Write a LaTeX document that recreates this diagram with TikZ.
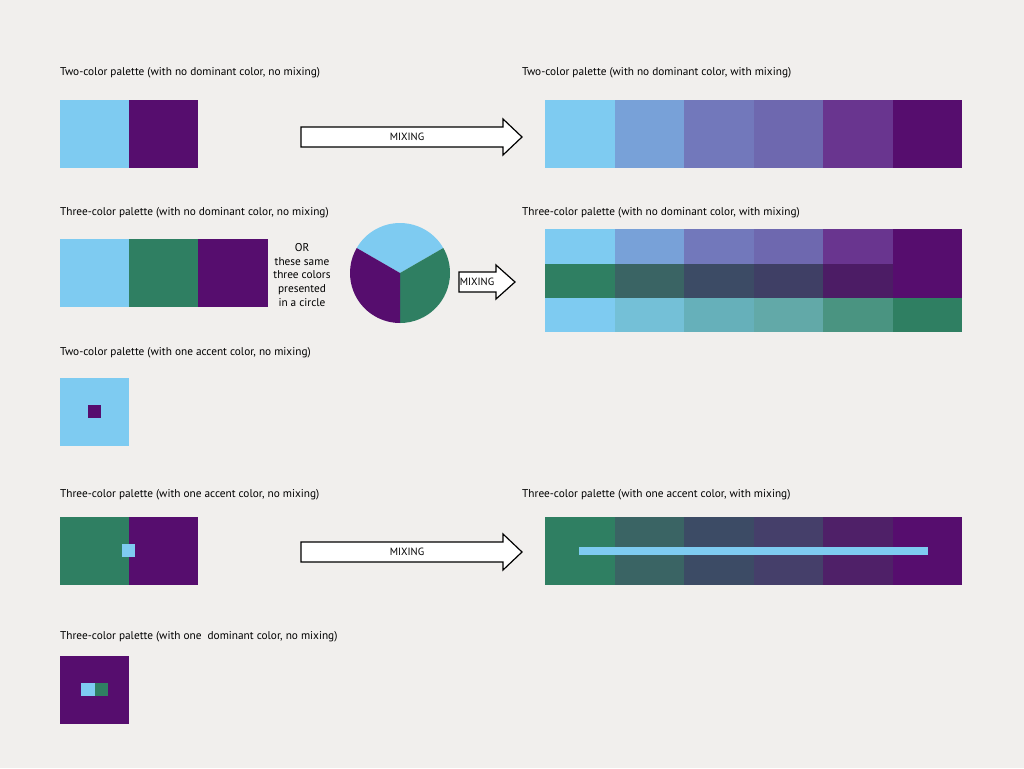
\documentclass[tikz,border=0pt]{standalone}
\usepackage{fontspec}
\setmainfont{PT Sans}
\begin{document}
\begin{tikzpicture}[x=1pt,y=-1pt,
 lbl/.style={anchor=west,inner sep=0pt,font=\fontsize{11.3}{12}\selectfont},
 arr/.style={draw=black,fill=white,line width=1.2pt},
 atext/.style={inner sep=0pt,font=\fontsize{10.5}{12}\selectfont}]
\definecolor{bg}{HTML}{F1EFED}
\definecolor{cb}{HTML}{7ECBF1}\definecolor{cp}{HTML}{560D6E}\definecolor{cg}{HTML}{2F7F62}
\fill[bg] (0,0) rectangle (1024,768);
\useasboundingbox (0,0) rectangle (1024,768);
% labels
\node[lbl] (l1) at (60,73) {Two-color palette (with no dominant color, no mixing)};
\node[lbl] (r1) at (522,73) {Two-color palette (with no dominant color, with mixing)};
\node[lbl] (l2) at (60,213) {Three-color palette (with no dominant color, no mixing)};
\node[lbl] (r2) at (522,213) {Three-color palette (with no dominant color, with mixing)};
\node[lbl] (l3) at (60,353) {Two-color palette (with one accent color, no mixing)};
\node[lbl] (l4) at (60,495) {Three-color palette (with one accent color, no mixing)};
\node[lbl] (r4) at (522,495) {Three-color palette (with one accent color, with mixing)};
\node[lbl] (l5) at (60,637) {Three-color palette (with one \ dominant color, no mixing)};
% left palettes
\fill[cb] (60,100) rectangle (129,168); \fill[cp] (129,100) rectangle (198,168);
\fill[cb] (60,239) rectangle (129,307); \fill[cg] (129,239) rectangle (198,307); \fill[cp] (198,239) rectangle (268,307);
\fill[cb] (60,378) rectangle (129,446); \fill[cp] (88,405) rectangle (101,418);
\fill[cg] (60,517) rectangle (129,585); \fill[cp] (129,517) rectangle (198,585); \fill[cb] (122,544) rectangle (135,557);
\fill[cp] (60,656) rectangle (129,724); \fill[cb] (81,683) rectangle (95,696); \fill[cg] (95,683) rectangle (108,696);
% OR text
\node[atext,align=center,font=\fontsize{11.3}{13.6}\selectfont] (or) at (302,275) {OR\\these same\\three colors\\presented\\in a circle};
% circle
\coordinate (cc) at (400,273);
\begin{scope}[shift={(cc)},y=1pt]
\fill[cb] (0,0) -- (30:50) arc[start angle=30,end angle=150,radius=50] -- cycle;
\fill[cg] (0,0) -- (-90:50) arc[start angle=-90,end angle=30,radius=50] -- cycle;
\fill[cp] (0,0) -- (150:50) arc[start angle=150,end angle=270,radius=50] -- cycle;
\end{scope}
% arrows
\draw[arr] (301,127) -- (503,127) -- (503,119) -- (522,137) -- (503,155) -- (503,147) -- (301,147) -- cycle;
\node[atext] (m1) at (407,137) {MIXING};
\draw[arr] (301,542) -- (503,542) -- (503,534) -- (522,552) -- (503,570) -- (503,562) -- (301,562) -- cycle;
\node[atext] (m3) at (407,552) {MIXING};
\draw[arr] (459,272) -- (496,272) -- (496,265) -- (515,282) -- (496,299) -- (496,292) -- (459,292) -- cycle;
\node[atext] (m2) at (477,282) {MIXING};
% mixing grids
\def\cw{69.5}
\foreach \c [count=\i from 0] in {7ECBF1,78A1D8,7278BB,6E68AF,69358F,560D6E}{
  \definecolor{tmp}{HTML}{\c}\fill[tmp] (545+\i*\cw,100) rectangle (545+\i*\cw+\cw,168);}
\foreach \c [count=\i from 0] in {7ECBF1,78A1D8,7278BB,6E68AF,69358F,560D6E}{
  \definecolor{tmp}{HTML}{\c}\fill[tmp] (545+\i*\cw,229) rectangle (545+\i*\cw+\cw,264);}
\foreach \c [count=\i from 0] in {2F7F62,3A6464,3C4B65,3F3F65,4C1C65,560D6E}{
  \definecolor{tmp}{HTML}{\c}\fill[tmp] (545+\i*\cw,264) rectangle (545+\i*\cw+\cw,298);}
\fill[cp] (892.5,229) rectangle (962,298);
\foreach \c [count=\i from 0] in {7ECBF1,74C0D7,66B0BA,62A9A8,4A9481,2F7F62}{
  \definecolor{tmp}{HTML}{\c}\fill[tmp] (545+\i*\cw,298) rectangle (545+\i*\cw+\cw,332);}
\foreach \c [count=\i from 0] in {2F7F62,3A6464,3C4B65,453F6A,4F2068,560D6E}{
  \definecolor{tmp}{HTML}{\c}\fill[tmp] (545+\i*\cw,517) rectangle (545+\i*\cw+\cw,585);}
\fill[cb] (579,547) rectangle (928,555);
\end{tikzpicture}
\end{document}
